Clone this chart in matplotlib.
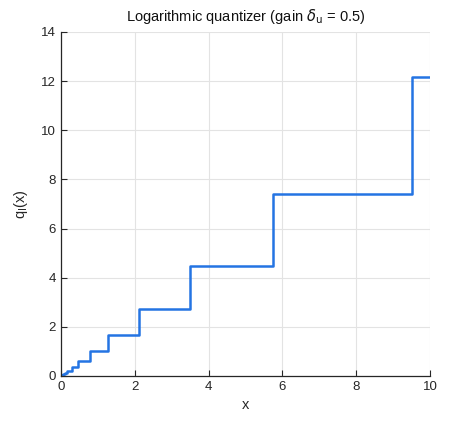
import matplotlib
matplotlib.use("Agg")
import matplotlib.pyplot as plt

# breakpoints (x where the staircase jumps) and quantization levels
thresholds = [0.0, 0.04, 0.065, 0.105, 0.17, 0.29, 0.47, 0.78, 1.28, 2.11, 3.5, 5.75, 9.5]
levels = [0.0, 0.05, 0.083, 0.135, 0.22, 0.37, 0.61, 1.0, 1.65, 2.72, 4.48, 7.39, 12.18]
x_max = 10.0

xticks = [0, 2, 4, 6, 8, 10]
yticks = [0, 2, 4, 6, 8, 10, 12, 14]

plt.rcParams['font.family'] = ['Liberation Sans', 'DejaVu Sans']
plt.rcParams['mathtext.fontset'] = 'dejavusans'

fig = plt.figure(figsize=(4.74, 4.22), dpi=100)
ax = fig.add_axes([61/474, 46/422, 369/474, 344/422])

xs = thresholds + [x_max]
ys = levels + [levels[-1]]
ax.step(xs, ys, where='post', color='#2474e3', linewidth=1.8)

ax.set_xlim(0, 10)
ax.set_ylim(0, 14)
ax.set_xticks(xticks)
ax.set_yticks(yticks)
ax.grid(True, color='#e3e3e3', linewidth=0.8)
ax.set_axisbelow(True)
for s in ['top', 'right']:
    ax.spines[s].set_visible(False)
for s in ['left', 'bottom']:
    ax.spines[s].set_color('#262626')
    ax.spines[s].set_linewidth(0.9)
ax.tick_params(direction='in', length=4, labelsize=9.5, colors='#262626')

ax.set_xlabel('x', fontsize=10.5, color='#262626', labelpad=4)
ax.set_ylabel(r'q$_\mathrm{l}$(x)', fontsize=10.5, color='#262626', labelpad=8)
ax.set_title(r'Logarithmic quantizer (gain $\delta_\mathrm{u}$ = 0.5)', fontsize=10.5,
             color='#111111', pad=8)

fig.savefig('out.png', dpi=100)
